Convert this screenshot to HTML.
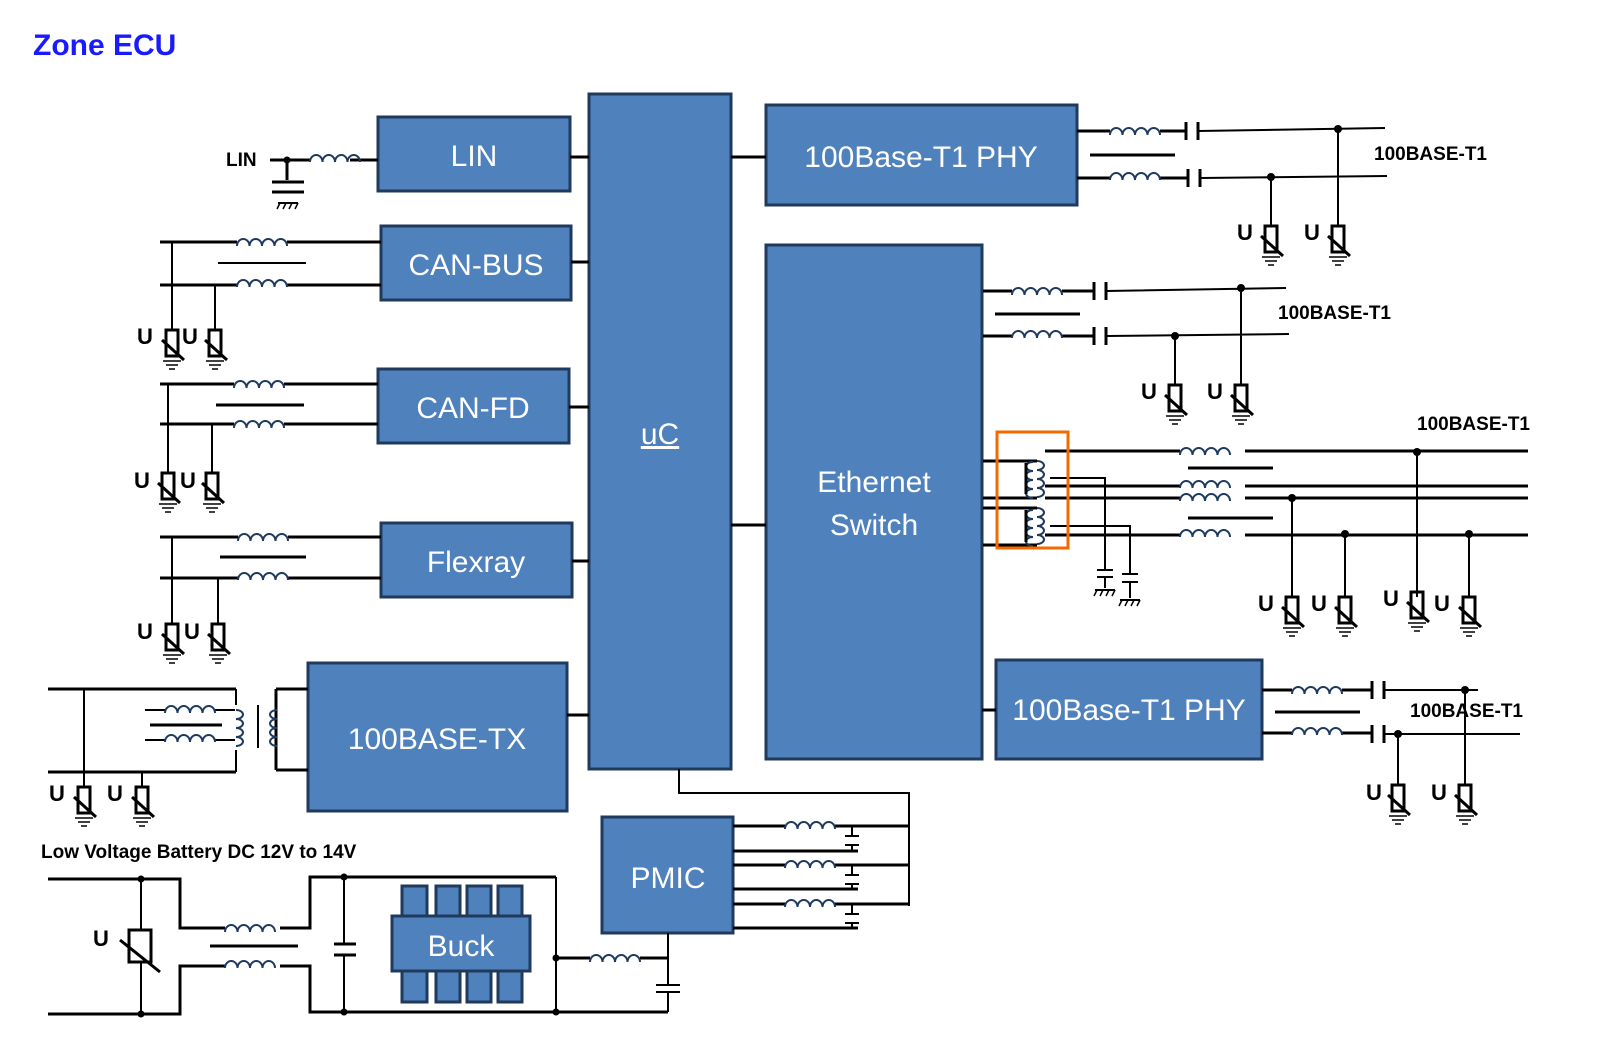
<!DOCTYPE html>
<html><head><meta charset="utf-8"><style>
html,body{margin:0;padding:0;background:#fff}
svg{display:block}
text{font-family:"Liberation Sans",sans-serif}
.bx{fill:#4f81bd;stroke:#1f3a5c;stroke-width:3}
.bt{fill:#fff;font-size:30px;text-anchor:middle}
.w{stroke:#000;stroke-width:2;fill:none}
.wt{stroke:#000;stroke-width:3;fill:none}
.lb{font-weight:bold;font-size:19px;fill:#000}
.u{font-weight:bold;font-size:22px;fill:#000}
</style></head><body>
<svg width="1603" height="1049" viewBox="0 0 1603 1049" xmlns="http://www.w3.org/2000/svg">
<defs>
<path id="L" d="M0,0 a6.25,7 0 0 1 12.5,0 a6.25,7 0 0 1 12.5,0 a6.25,7 0 0 1 12.5,0 a6.25,7 0 0 1 12.5,0" fill="none" stroke="#1f3a5f" stroke-width="2"/>
<g id="T">
<rect x="-6" y="0" width="12" height="26" fill="none" stroke="#000" stroke-width="3"/>
<line x1="-10" y1="10" x2="12" y2="30" stroke="#000" stroke-width="3"/>
<line x1="-9" y1="31" x2="9" y2="31" stroke="#000" stroke-width="1.5"/>
<line x1="-6" y1="35" x2="6" y2="35" stroke="#000" stroke-width="1.5"/>
<line x1="-3" y1="39" x2="3" y2="39" stroke="#000" stroke-width="1.5"/>
</g>
<g id="C"><line x1="0" y1="-9" x2="0" y2="9" stroke="#000" stroke-width="3"/><line x1="12" y1="-9" x2="12" y2="9" stroke="#000" stroke-width="3"/></g>
<g id="G"><line x1="-10" y1="0" x2="10" y2="0" stroke="#000" stroke-width="2"/><path d="M-8,0 l-3,6 M-2,0 l-3,6 M4,0 l-3,6 M10,0 l-3,6" stroke="#000" stroke-width="1.5"/></g>
<g id="Tr"><path d="M0,0 a7,4.5 0 0 0 0,9 a7,4.5 0 0 0 0,9 a7,4.5 0 0 0 0,9 a7,4.5 0 0 0 0,9" fill="none" stroke="#1f3a5f" stroke-width="2"/></g>
<g id="Trr"><path d="M0,0 a7,4.5 0 0 1 0,9 a7,4.5 0 0 1 0,9 a7,4.5 0 0 1 0,9 a7,4.5 0 0 1 0,9" fill="none" stroke="#1f3a5f" stroke-width="2"/></g>
</defs>

<text x="33" y="55" font-size="30" font-weight="bold" fill="#1a1aff">Zone ECU</text>

<!-- boxes -->
<rect class="bx" x="589" y="94" width="142" height="675"/>
<text class="bt" x="660" y="444" style="text-decoration:underline dotted #c00">uC</text>
<rect class="bx" x="378" y="117" width="192" height="74"/><text class="bt" x="474" y="166">LIN</text>
<rect class="bx" x="381" y="226" width="190" height="74"/><text class="bt" x="476" y="275">CAN-BUS</text>
<rect class="bx" x="378" y="369" width="191" height="74"/><text class="bt" x="473" y="418">CAN-FD</text>
<rect class="bx" x="381" y="523" width="191" height="74"/><text class="bt" x="476" y="572">Flexray</text>
<rect class="bx" x="308" y="663" width="259" height="148"/><text class="bt" x="437" y="749">100BASE-TX</text>
<rect class="bx" x="766" y="105" width="311" height="100"/><text class="bt" x="921" y="167">100Base-T1 PHY</text>
<rect class="bx" x="766" y="245" width="216" height="514"/><text class="bt" x="874" y="492">Ethernet</text><text class="bt" x="874" y="535">Switch</text>
<rect class="bx" x="996" y="660" width="266" height="99"/><text class="bt" x="1129" y="720">100Base-T1 PHY</text>
<rect class="bx" x="602" y="817" width="131" height="116"/><text class="bt" x="668" y="888">PMIC</text>
<g class="bx"><rect x="402" y="886" width="25" height="30"/><rect x="436" y="886" width="24" height="30"/><rect x="467" y="886" width="24" height="30"/><rect x="498" y="886" width="24" height="30"/>
<rect x="402" y="971" width="25" height="31"/><rect x="436" y="971" width="24" height="31"/><rect x="467" y="971" width="24" height="31"/><rect x="498" y="971" width="24" height="31"/>
<rect x="392" y="916" width="138" height="55"/></g>
<text class="bt" x="461" y="956" font-size="34">Buck</text>

<!-- uC links -->
<g class="wt">
<path d="M570,157H589M571,262H589M569,407H589M572,561H589M567,715H589M731,157H766M731,525H766M982,710H996"/>
</g>
<path class="w" d="M679,769V793H909V906"/>

<!-- LIN -->
<text class="lb" x="226" y="166">LIN</text>
<path class="wt" d="M270,160H310M350,160H378M287,160V180M272,182H304M272,192H304"/>
<circle cx="287" cy="160" r="3.5"/>
<use href="#L" x="310" y="162"/>
<use href="#G" x="288" y="203"/>

<!-- CAN-BUS -->
<path class="wt" d="M160,242H237M287,242H381M160,285H237M287,285H381"/>
<path class="w" d="M218,263H306M172,242V330M215,285V330"/>
<use href="#L" x="237" y="246"/><use href="#L" x="237" y="287"/>
<use href="#T" x="172" y="330"/><use href="#T" x="215" y="330"/>
<text class="u" x="137" y="344">U</text><text class="u" x="182" y="344">U</text>

<!-- CAN-FD -->
<path class="wt" d="M160,384H234M284,384H378M160,424H234M284,424H378M216,405H304"/>
<path class="w" d="M168,384V473M212,424V473"/>
<use href="#L" x="234" y="388"/><use href="#L" x="234" y="428"/>
<use href="#T" x="168" y="473"/><use href="#T" x="212" y="473"/>
<text class="u" x="134" y="488">U</text><text class="u" x="180" y="488">U</text>

<!-- Flexray -->
<path class="wt" d="M160,537H238M288,537H381M160,578H238M288,578H381M220,557H306"/>
<path class="w" d="M172,537V624M218,578V624"/>
<use href="#L" x="238" y="541"/><use href="#L" x="238" y="580"/>
<use href="#T" x="172" y="624"/><use href="#T" x="218" y="624"/>
<text class="u" x="137" y="639">U</text><text class="u" x="184" y="639">U</text>

<!-- 100BASE-TX -->
<path class="wt" d="M48,689H236M48,772H236M276,689H308M276,770H308M276,689V770M150,725H222"/>
<path class="w" d="M236,689V705M236,750V772M145,710H165M215,710H235M145,740H165M215,740H235M84,689V787M142,772V787M258,705V748"/>
<use href="#L" x="165" y="713"/><use href="#L" x="165" y="742"/>
<use href="#Trr" x="236" y="710"/><use href="#Tr" x="277" y="710"/>
<use href="#T" x="84" y="787"/><use href="#T" x="142" y="787"/>
<text class="u" x="49" y="801">U</text><text class="u" x="107" y="801">U</text>

<!-- PMIC outputs -->
<path class="wt" d="M733,826H785M835,826H909M733,851H858M733,865H785M835,865H909M733,889H858M733,904H785M835,904H909M733,928H858"/>
<path class="w" d="M852,826V836M852,845V851M852,865V875M852,884V889M852,904V914M852,923V928M845,836H859M845,845H859M845,875H859M845,884H859M845,914H859M845,923H859"/>
<use href="#L" x="785" y="829"/><use href="#L" x="785" y="868"/><use href="#L" x="785" y="907"/>

<!-- Battery / buck -->
<text class="lb" x="41" y="858">Low Voltage Battery DC 12V to 14V</text>
<path class="wt" d="M48,879H180V928H225M280,928H310V877H556M48,1014H180V966H225M280,966H310V1012H668M210,946H298M334,944H356M334,955H356M556,958H590M640,958H668"/>
<path class="w" d="M141,879V1014M344,877V944M344,955V1012M556,877V1012M668,933V985M668,992V1012M656,985H680M656,992H680"/>
<use href="#L" x="225" y="932"/><use href="#L" x="225" y="968"/><use href="#L" x="590" y="962"/>
<circle cx="141" cy="879" r="3.5"/><circle cx="141" cy="1014" r="3.5"/><circle cx="344" cy="877" r="3.5"/><circle cx="344" cy="1012" r="3.5"/><circle cx="556" cy="958" r="3.5"/><circle cx="556" cy="1012" r="3.5"/>
<rect x="129" y="930" width="22" height="32" fill="#fff" stroke="#000" stroke-width="3"/>
<line x1="120" y1="940" x2="160" y2="972" stroke="#000" stroke-width="3"/>
<text class="u" x="93" y="946" font-size="24">U</text>

<!-- top PHY T1 -->
<path class="wt" d="M1077,131H1110M1160,131H1186M1077,178H1110M1160,178H1188M1090,155H1175"/>
<path class="w" d="M1198,131L1385,128M1200,178L1387,176M1338,129V226M1271,177V226"/>
<use href="#L" x="1110" y="135"/><use href="#L" x="1110" y="180"/>
<use href="#C" x="1186" y="131"/><use href="#C" x="1188" y="178"/>
<circle cx="1338" cy="129" r="4"/><circle cx="1271" cy="177" r="4"/>
<use href="#T" x="1271" y="226"/><use href="#T" x="1338" y="226"/>
<text class="u" x="1237" y="240">U</text><text class="u" x="1304" y="240">U</text>
<text class="lb" x="1374" y="160">100BASE-T1</text>

<!-- switch T1 -->
<path class="wt" d="M983,291H1012M1062,291H1094M983,336H1012M1062,336H1094M995,314H1080"/>
<path class="w" d="M1106,291L1286,288M1106,336L1289,334M1241,288V385M1175,336V385"/>
<use href="#L" x="1012" y="295"/><use href="#L" x="1012" y="338"/>
<use href="#C" x="1094" y="291"/><use href="#C" x="1094" y="336"/>
<circle cx="1241" cy="288" r="4"/><circle cx="1175" cy="336" r="4"/>
<use href="#T" x="1175" y="385"/><use href="#T" x="1241" y="385"/>
<text class="u" x="1141" y="399">U</text><text class="u" x="1207" y="399">U</text>
<text class="lb" x="1278" y="319">100BASE-T1</text>

<!-- switch transformer -->
<path class="wt" d="M983,461H1037M983,498H1037M983,508H1037M983,545H1037"/>
<path class="w" d="M983,461V461"/>
<use href="#Tr" x="1033" y="462"/>
<use href="#Tr" x="1033" y="510"/>
<use href="#Trr" x="1037" y="461"/>
<use href="#Trr" x="1037" y="508"/>
<path class="wt" d="M1026,463V494M1026,510V542"/>
<path class="wt" d="M1045,461H1180M1245,461H1528M1045,496H1180M1245,496H1528M1045,508H1180M1245,508H1528M1045,545H1180M1245,545H1528M1188,478H1273M1188,528H1273" transform="translate(0,-10)"/>
<path class="w" d="M1050,478H1105V570M1050,526H1130V574M1097,570H1113M1097,577H1113M1105,577V588M1122,574H1138M1122,582H1138M1130,582V598"/>
<use href="#G" x="1105" y="590"/><use href="#G" x="1130" y="600"/>
<use href="#L" x="1180" y="455"/><use href="#L" x="1180" y="488"/><use href="#L" x="1180" y="501"/><use href="#L" x="1180" y="537"/>
<rect x="997" y="432" width="71" height="116" fill="none" stroke="#f56a00" stroke-width="3"/>
<path class="w" d="M1417,452V597M1292,498V597M1345,534V597M1469,534V597"/>
<circle cx="1417" cy="452" r="4"/><circle cx="1292" cy="498" r="4"/><circle cx="1345" cy="534" r="4"/><circle cx="1469" cy="534" r="4"/>
<use href="#T" x="1292" y="597"/><use href="#T" x="1345" y="597"/><use href="#T" x="1417" y="592"/><use href="#T" x="1469" y="597"/>
<text class="u" x="1258" y="611">U</text><text class="u" x="1311" y="611">U</text><text class="u" x="1383" y="606">U</text><text class="u" x="1434" y="611">U</text>
<text class="lb" x="1417" y="430">100BASE-T1</text>

<!-- bottom PHY T1 -->
<path class="wt" d="M1262,690H1292M1342,690H1372M1262,733H1292M1342,733H1372M1275,712H1360"/>
<path class="w" d="M1384,690H1478M1384,734H1520M1465,690V785M1398,734V785"/>
<use href="#L" x="1292" y="694"/><use href="#L" x="1292" y="735"/>
<use href="#C" x="1372" y="690"/><use href="#C" x="1372" y="734"/>
<circle cx="1465" cy="690" r="4"/><circle cx="1398" cy="734" r="4"/>
<use href="#T" x="1398" y="785"/><use href="#T" x="1465" y="785"/>
<text class="u" x="1366" y="800">U</text><text class="u" x="1431" y="800">U</text>
<text class="lb" x="1410" y="717">100BASE-T1</text>
</svg>
</body></html>
